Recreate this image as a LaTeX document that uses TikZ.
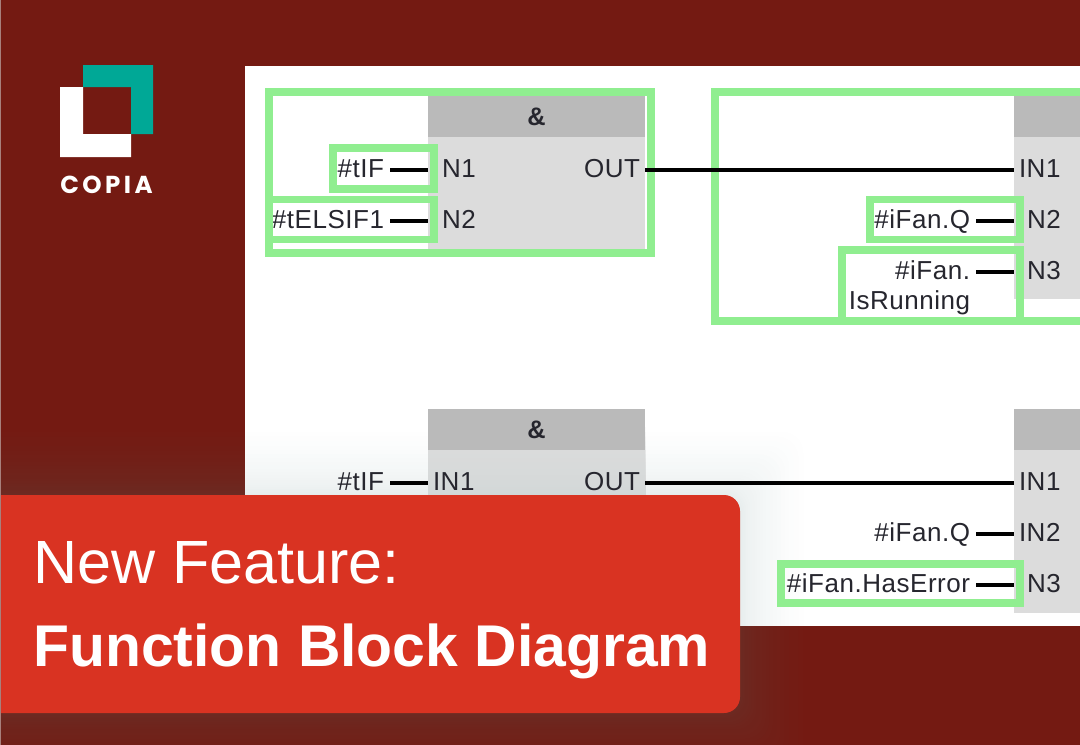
\documentclass[tikz,border=0pt]{standalone}
\usepackage{fontspec}
\setmainfont{Liberation Sans}
\newfontfamily\labelfont[LetterSpace=2]{Liberation Sans}
\newfontfamily\copiafont[LetterSpace=14]{Poppins}
\newdimen\pxu \pxu=.75pt
\definecolor{bgred}{HTML}{741A12}
\definecolor{bgglow}{HTML}{6B2C24}
\definecolor{panelglow}{HTML}{E6ECEC}
\definecolor{blockglow}{HTML}{D1D7D7}
\definecolor{edgepink}{HTML}{A8807C}
\definecolor{teal}{HTML}{00A896}
\definecolor{cardred}{HTML}{D93322}
\definecolor{hlgreen}{HTML}{90EE90}
\definecolor{blockgrey}{HTML}{DCDCDC}
\definecolor{headgrey}{HTML}{BABABA}
\definecolor{inktext}{HTML}{26262E}
\tikzset{
  x=.75pt,y=-.75pt,
  blockbody/.style={anchor=north west,fill=blockgrey,draw=none,inner sep=0pt,outer sep=0pt,minimum width=#1\pxu},
  blockhead/.style={anchor=north west,fill=headgrey,draw=none,inner sep=0pt,outer sep=0pt,minimum width=#1\pxu,minimum height=41\pxu},
  amp/.style={font=\fontsize{19pt}{20pt}\selectfont\bfseries,text=inktext,inner sep=0pt},
  lab/.style={font=\labelfont\fontsize{19.5pt}{20pt}\selectfont,text=inktext,inner sep=0pt,outer sep=0pt,text height=15.75pt,text depth=5.25pt},
  tagl/.style={lab,anchor=base east,inner xsep=4.5pt},
  pinl/.style={lab,anchor=base west},
  pinr/.style={lab,anchor=base east},
  wire/.style={draw=black,line width=3.4pt},
  hl/.style={anchor=north west,draw=hlgreen,line width=5.6pt,fill=none,inner sep=0pt,outer sep=0pt},
}
\newcommand{\hlrect}[5]{\node[hl,minimum width=#4\pxu,minimum height=#5\pxu] (#1) at (#2,#3) {};}
% nested opaque rounded boxes, outermost first: #1 ground colour, #2 colour at the card
\newcommand{\cardglow}[2]{%
  \foreach \i in {24,23,...,1}{
    \pgfmathsetmacro\g{68*(\i/24)^1.8}
    \pgfmathsetmacro\t{100*(24-\i)/23}
    \fill[fill={#2!\t!#1},rounded corners=16pt] (-100,495-\g) rectangle (740+\g,713+\g);
  }}
\begin{document}
\begin{tikzpicture}
\useasboundingbox (0,0) rectangle (1080,744);
\fill[bgred] (-10,-10) rectangle (1090,754);
% glow on the dark ground
\begin{scope}
\clip (-10,-10) rectangle (1090,754);
\cardglow{bgred}{bgglow}
\end{scope}
% panel
\fill[white] (245,66) rectangle (1090,626);
% glow on the panel
\begin{scope}
\clip (245,66) rectangle (1090,625);
\cardglow{white}{panelglow}
\end{scope}
% logo
\fill[teal] (83,65) -- (153,65) -- (153,134) -- (131,134) -- (131,87) -- (83,87) -- cycle;
\fill[white] (60,87) -- (83,87) -- (83,134) -- (131,134) -- (131,157) -- (60,157) -- cycle;
\node[inner sep=0pt,anchor=base west,text=white,font=\copiafont\fontsize{18.4pt}{20pt}\selectfont\bfseries] (logotext) at (60,193.5) {COPIA};
% the right-hand parts run off the page
\begin{scope}
\clip (-10,-10) rectangle (1080,754);
% blocks, row one
\node[blockbody=217,minimum height=155\pxu] (bA) at (428,96) {};
\node[blockhead=217] (hA) at (428,96) {};
\node[amp] (ampA) at (hA.center) {\&};
\node[blockbody=200,minimum height=203\pxu] (bB) at (1014,96) {};
\node[blockhead=200] (hB) at (1014,96) {};
% blocks, row two
\node[blockbody=217,minimum height=155\pxu] (bC) at (428,409) {};
\begin{scope}
\clip (428,409) rectangle (645,564);
\cardglow{blockgrey}{blockglow}
\end{scope}
\node[blockhead=217] (hC) at (428,409) {};
\node[amp] (ampC) at (hC.center) {\&};
\node[blockbody=200,minimum height=204\pxu] (bD) at (1014,409) {};
\node[blockhead=200] (hD) at (1014,409) {};
% labels, row one
\node[tagl] (t1) at (390,177) {\#tIF};
\node[tagl] (t2) at (390,228) {\#tELSIF1};
\node[pinl] (a1) at (442,177) {N1};
\node[pinl] (a2) at (442,228) {N2};
\node[pinr] (aout) at (640,177) {OUT};
\node[pinl] (b1) at (1019,177) {IN1};
\node[pinl] (b2) at (1027,228) {N2};
\node[pinl] (b3) at (1027,279) {N3};
\node[tagl] (t3) at (976,228) {\#iFan.Q};
\node[tagl] (t4) at (976,279) {\#iFan.};
\node[tagl] (t4b) at (976,309) {IsRunning};
% labels, row two
\node[tagl] (t5) at (390,490) {\#tIF};
\node[pinl] (c1) at (433,490) {IN1};
\node[pinr] (cout) at (640,490) {OUT};
\node[pinl] (d1) at (1019,490) {IN1};
\node[pinl] (d2) at (1019,541) {IN2};
\node[pinl] (d3) at (1027,592) {N3};
\node[tagl] (t6) at (976,541) {\#iFan.Q};
\node[tagl] (t7) at (976,592) {\#iFan.HasError};
% highlights
\hlrect{o1}{269}{92}{382}{161}
\hlrect{o2}{333}{148}{101}{41}
\hlrect{o3}{269}{199.5}{165}{40}
\hlrect{o4}{715}{92}{500}{229}
\hlrect{o5}{870}{199.5}{150}{40}
\hlrect{o6}{842}{250}{178}{71}
\hlrect{o7}{781}{564}{239}{39}
% wires
\draw[wire] (t1.east) -- (t1.east -| bA.west);
\draw[wire] (t2.east) -- (t2.east -| bA.west);
\draw[wire] (aout.east -| bA.east) -- (aout.east -| bB.west);
\draw[wire] (t3.east) -- (t3.east -| bB.west);
\draw[wire] (t4.east) -- (t4.east -| bB.west);
\draw[wire] (t5.east) -- (t5.east -| bC.west);
\draw[wire] (cout.east -| bC.east) -- (cout.east -| bD.west);
\draw[wire] (t6.east) -- (t6.east -| bD.west);
\draw[wire] (t7.east) -- (t7.east -| bD.west);
\end{scope}
% card
\fill[cardred,rounded corners=12pt] (-40,495) rectangle (740,713);
\node[inner sep=0pt,anchor=base west,text=white,font=\fontsize{45.8pt}{50pt}\selectfont] (title1) at (33,583) {New Feature:};
\node[inner sep=0pt,anchor=base west,text=white,font=\fontsize{44.15pt}{50pt}\selectfont\bfseries] (title2) at (33,666) {Function Block Diagram};
\fill[edgepink] (-10,-10) rectangle (1,754);
\end{tikzpicture}
\end{document}
